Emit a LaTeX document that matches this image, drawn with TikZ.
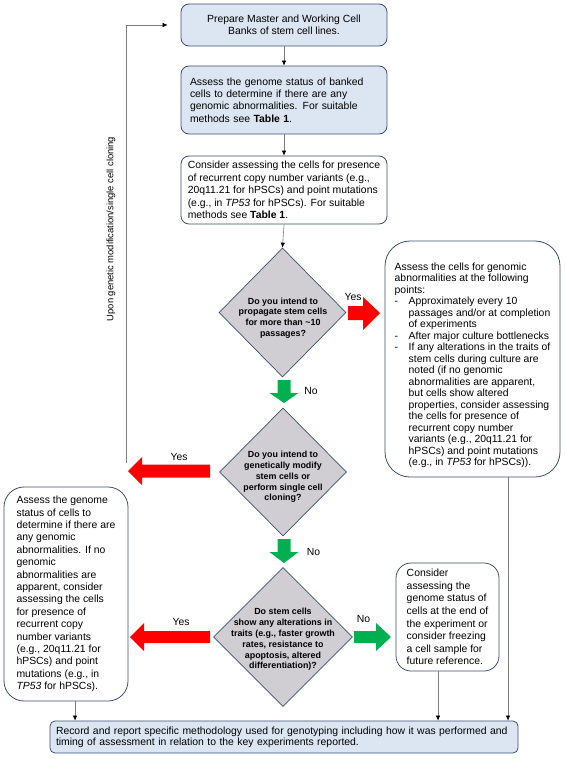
\documentclass[tikz,border=0pt]{standalone}
\usepackage{fontspec}
\setmainfont{Liberation Sans}
\usetikzlibrary{shapes.geometric,arrows.meta,calc}
\definecolor{boxblue}{RGB}{220,230,242}
\definecolor{edgecol}{RGB}{60,80,112}
\definecolor{dgray}{RGB}{208,206,210}
\definecolor{bred}{RGB}{255,0,0}
\definecolor{bgreen}{RGB}{0,176,80}
\definecolor{conncol}{RGB}{125,125,125}
\begin{document}
\begin{tikzpicture}[x=1pt,y=-1pt,
  every node/.style={font=\fontsize{10.4}{12.4}\selectfont, inner sep=0pt},
  box/.style={draw=edgecol, line width=0.8pt, rounded corners=8pt, align=left, fill=white},
  bluebox/.style={box, fill=boxblue},
  dia/.style={diamond, draw=edgecol, fill=dgray, line width=0.7pt, inner sep=0pt},
  dtext/.style={font=\bfseries\fontsize{8.9}{10.8}\selectfont, align=center},
  lbl/.style={font=\fontsize{10.4}{12.4}\selectfont},
  conn/.style={draw=conncol, line width=0.6pt, -{Latex[black,length=5pt,width=4.5pt]}},
  redblk/.style={fill=bred},
  greenblk/.style={fill=bgreen}
]
\useasboundingbox (0,0) rectangle (565,759);

% top boxes
\node[bluebox, align=center, minimum width=206pt, minimum height=42pt] (b1) at (284,25)
  {Prepare Master and Working Cell\\Banks of stem cell lines.};
\node[bluebox, minimum width=206pt, minimum height=68pt, text width=188pt] (b2) at (284,100)
  {Assess the genome status of banked\\cells to determine if there are any\\genomic abnormalities. For suitable\\methods see \textbf{Table 1}.};
\node[box, minimum width=206pt, minimum height=68pt] (b3) at (284,190)
  {Consider assessing the cells for presence\\of recurrent copy number variants (e.g.,\\20q11.21 for hPSCs) and point mutations\\(e.g., in \textit{TP53} for hPSCs). For suitable\\methods see \textbf{Table 1}.};

% diamonds
\node[dia, minimum width=127pt, minimum height=129pt] (d1) at (282.5,312.5) {};
\node[dtext] (d1t) at (283,318) {Do you intend to\\propagate stem cells\\for more than \textasciitilde10\\passages?};
\node[dia, minimum width=127pt, minimum height=128pt] (d2) at (283,472) {};
\node[dtext] (d2t) at (283,477) {Do you intend to\\genetically modify\\stem cells or\\perform single cell\\cloning?};
\node[dia, minimum width=139pt, minimum height=139pt] (d3) at (283,637) {};
\node[dtext] (d3t) at (283,639.5) {Do stem cells\\show any alterations in\\traits (e.g., faster growth\\rates, resistance to\\apoptosis, altered\\differentiation)?};

% right big box
\node[box, rounded corners=25pt, minimum width=175pt, minimum height=236pt] (rb) at (472.5,359) {};
\node[align=left, font=\fontsize{10.4}{11.5}\selectfont] (rbt) at (472.5,365.5)
  {Assess the cells for genomic\\abnormalities at the following\\points:\\
   \makebox[14pt][l]{-}Approximately every 10\\
   \hspace*{14pt}passages and/or at completion\\
   \hspace*{14pt}of experiments\\
   \makebox[14pt][l]{-}After major culture bottlenecks\\
   \makebox[14pt][l]{-}If any alterations in the traits of\\
   \hspace*{14pt}stem cells during culture are\\
   \hspace*{14pt}noted (if no genomic\\
   \hspace*{14pt}abnormalities are apparent,\\
   \hspace*{14pt}but cells show altered\\
   \hspace*{14pt}properties, consider assessing\\
   \hspace*{14pt}the cells for presence of\\
   \hspace*{14pt}recurrent copy number\\
   \hspace*{14pt}variants (e.g., 20q11.21 for\\
   \hspace*{14pt}hPSCs) and point mutations\\
   \hspace*{14pt}(e.g., in \textit{TP53} for hPSCs)).};

% consider box
\node[box, rounded corners=15pt, minimum width=103pt, minimum height=108pt, font=\fontsize{10.4}{12.6}\selectfont] (cb) at (447.5,617)
  {Consider\\assessing the\\genome status of\\cells at the end of\\the experiment or\\consider freezing\\a cell sample for\\future reference.};

% left box
\node[box, rounded corners=20pt, minimum width=124pt, minimum height=214pt] (lb) at (66,594)
  {Assess the genome\\status of cells to\\determine if there are\\any genomic\\abnormalities. If no\\genomic\\abnormalities are\\apparent, consider\\assessing the cells\\for presence of\\recurrent copy\\number variants\\(e.g., 20q11.21 for\\hPSCs) and point\\mutations (e.g., in\\\textit{TP53} for hPSCs).};

% bottom box
\node[bluebox, rounded corners=5pt, minimum width=468pt, minimum height=32pt, text width=456pt, font=\fontsize{10.4}{10.8}\selectfont] (bt) at (284,737)
  {Record and report specific methodology used for genotyping including how it was performed and\\timing of assessment in relation to the key experiments reported.};

% connectors
\draw[conn] (b1.south) -- (b2.north);
\draw[conn] (b2.south) -- (b3.north);
\draw[conn] (b3.south) -- (d1.north);
\draw[conn] (lb.south -| 75,0) -- (bt.north -| 75,0);
\draw[conn] (cb.south -| 438,0) -- (bt.north -| 438,0);
\draw[conn] (rb.south -| 508,0) -- (bt.north -| 508,0);
\coordinate (fb) at (126,463);
\draw[conn, shorten >=13pt] (fb) |- (b1.west);
\node[rotate=90, font=\fontsize{9.4}{11}\selectfont] (fbl) at (111,229) {Upon genetic modification/single cell cloning};

% block arrows
\fill[redblk] (348,306) -- (363,306) -- (363,297) -- (380,313) -- (363,330) -- (363,320) -- (348,320) -- cycle;
\fill[redblk] (210,464.5) -- (142,464.5) -- (142,457) -- (128,471) -- (142,485) -- (142,477.5) -- (210,477.5) -- cycle;
\fill[redblk] (210,631) -- (144,631) -- (144,623) -- (130,637) -- (144,651) -- (144,643) -- (210,643) -- cycle;
\fill[greenblk] (277.5,380) -- (290.5,380) -- (290.5,393) -- (298.5,393) -- (284,403) -- (269.5,393) -- (277.5,393) -- cycle;
\fill[greenblk] (277.5,539) -- (290.5,539) -- (290.5,552) -- (298.5,552) -- (284,563) -- (269.5,552) -- (277.5,552) -- cycle;
\fill[greenblk] (354,631) -- (376,631) -- (376,623) -- (391,637) -- (376,651) -- (376,643) -- (354,643) -- cycle;

% labels
\node[lbl] (y1) at (353,297) {Yes};
\node[lbl] (n1) at (311,391) {No};
\node[lbl] (y2) at (179,457) {Yes};
\node[lbl] (n2) at (313.5,552) {No};
\node[lbl] (y3) at (181,622) {Yes};
\node[lbl] (n3) at (363.5,619) {No};
\end{tikzpicture}
\end{document}
